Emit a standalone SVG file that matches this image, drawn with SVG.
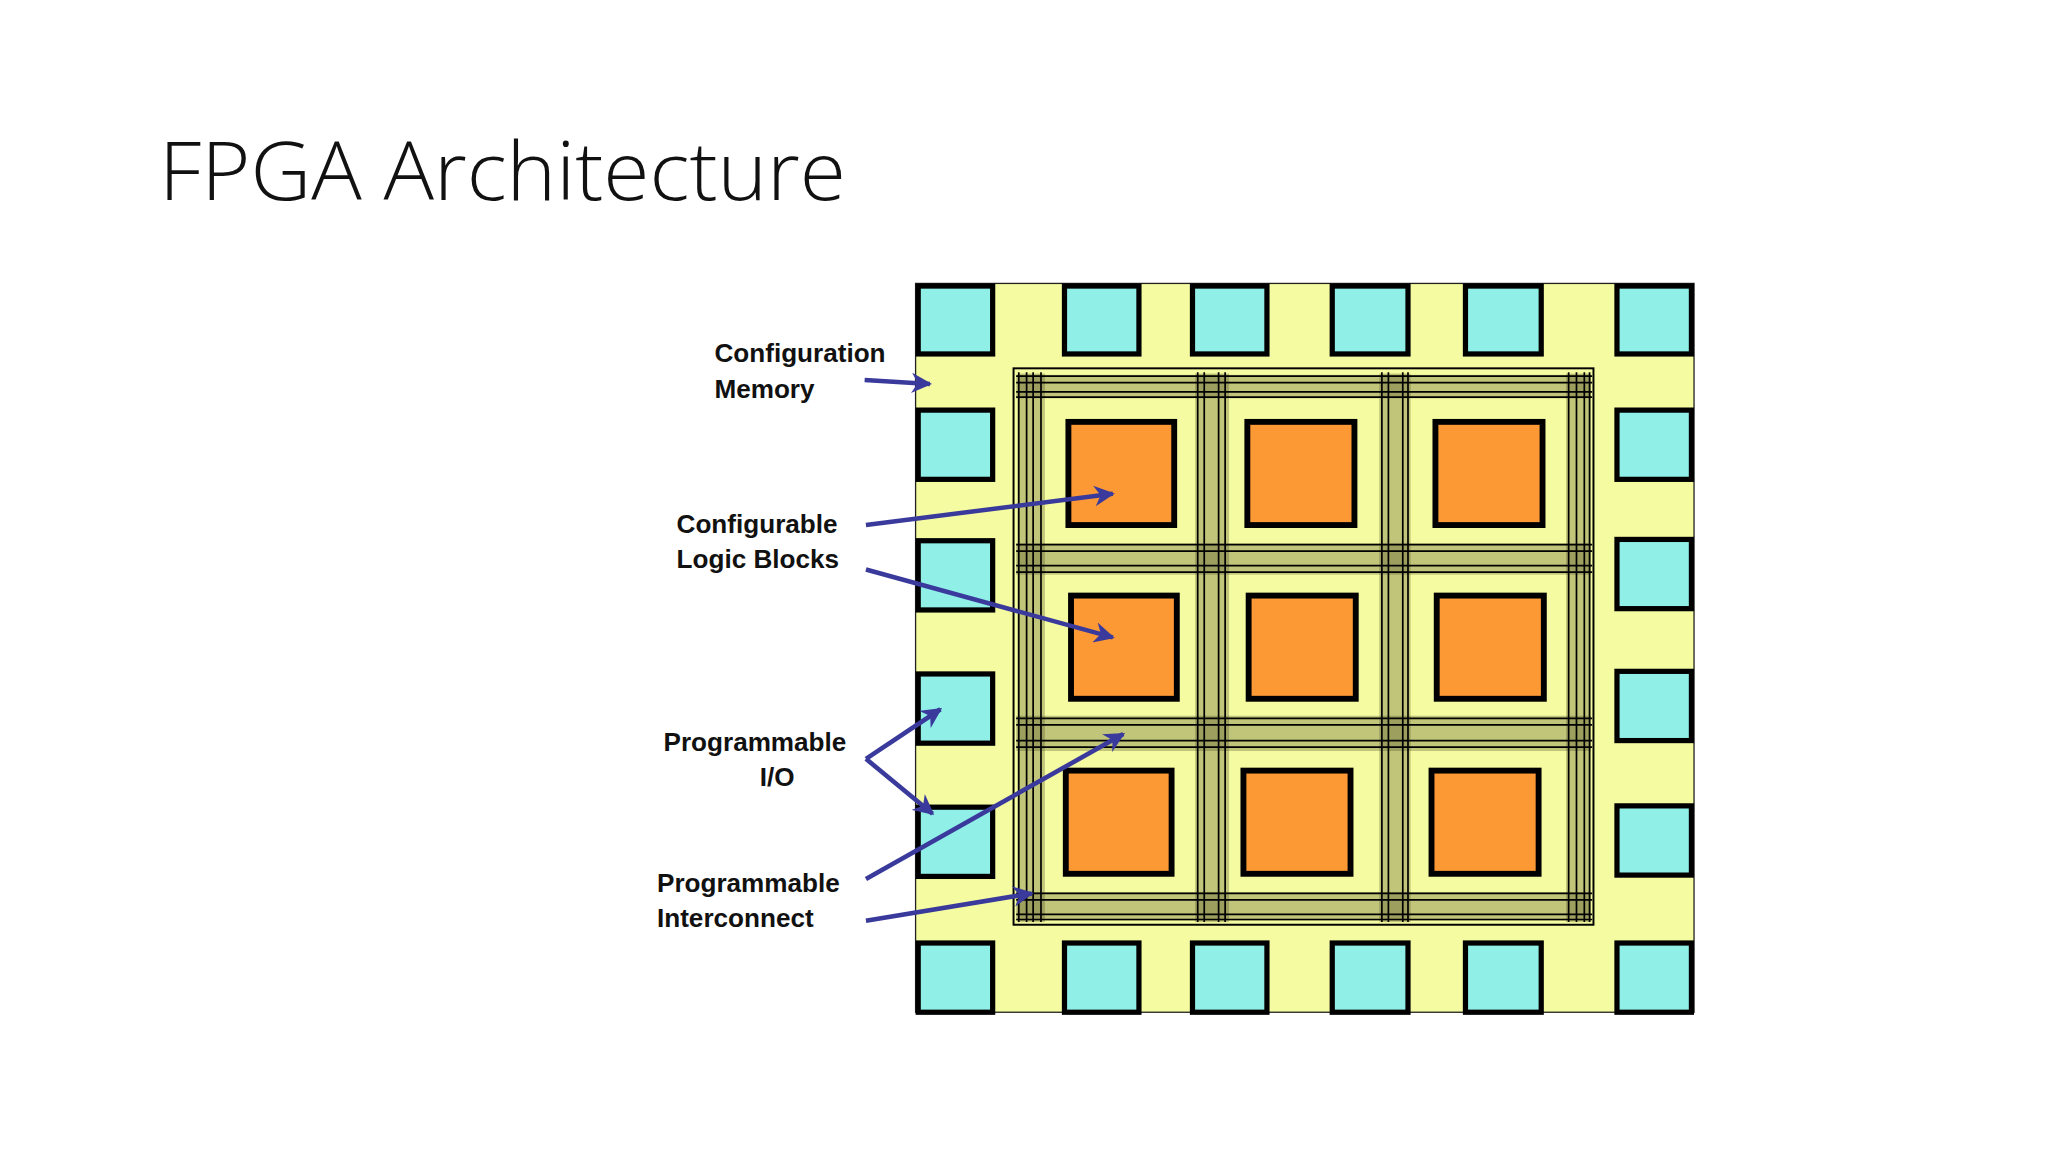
<svg xmlns="http://www.w3.org/2000/svg" width="2048" height="1152" viewBox="0 0 2048 1152">
<style>
.io{fill:#90f0e8;stroke:#000;stroke-width:4}
.clb{fill:#fd9934;stroke:#000;stroke-width:4.5}
.band{fill:#4a4a20;opacity:0.3}
.w{stroke:#000;stroke-width:1.3;fill:none}
.lbl{font-family:"Liberation Sans",Arial,sans-serif;font-weight:bold;font-size:20px;fill:#111}
.arr{stroke:#3a3a9c;stroke-width:3.5;fill:none;marker-end:url(#ah)}
</style>
<defs>
<marker id="ah" viewBox="0 0 10 10" refX="9" refY="5" markerWidth="4.5" markerHeight="4.5" orient="auto" markerUnits="strokeWidth">
<path d="M0,0 L10,5 L0,10 L3,5 Z" fill="#3a3a9c"/>
</marker>
</defs>
<rect width="2048" height="1152" fill="#fff"/>
<text x="159" y="200" font-family="'Open Sans','Liberation Sans',sans-serif" font-weight="300" font-size="82" fill="#111" textLength="687" lengthAdjust="spacingAndGlyphs">FPGA Architecture</text>
<g transform="scale(1.30612)">
<g id="chip">
<rect x="701" y="217" width="596" height="558" fill="#f5fba0" stroke="#222" stroke-width="1"/>
</g>
<g id="interconnect">
<rect x="776" y="282" width="444" height="426" fill="none" stroke="#000" stroke-width="1.5"/>
<rect class="band" x="779" y="286" width="21" height="420"/>
<rect class="band" x="915" y="286" width="26" height="420"/>
<rect class="band" x="1056" y="286" width="24" height="420"/>
<rect class="band" x="1199" y="286" width="19" height="420"/>
<rect class="band" x="778" y="287" width="440" height="18"/>
<rect class="band" x="778" y="416" width="440" height="24"/>
<rect class="band" x="778" y="548" width="440" height="27"/>
<rect class="band" x="778" y="683" width="440" height="22"/>
<path class="w" d="M780,285V706M786,285V706M791,285V706M797,285V706M917,285V706M922,285V706M933,285V706M938,285V706M1058,285V706M1063,285V706M1074,285V706M1078,285V706M1201,285V706M1207,285V706M1213,285V706M1217,285V706"/>
<path class="w" d="M778,288H1219M778,293H1219M778,300H1219M778,304H1219M778,417H1219M778,422H1219M778,433H1219M778,438H1219M778,550H1219M778,555H1219M778,567H1219M778,572H1219M778,684H1219M778,689H1219M778,700H1219M778,704H1219"/>
</g>
<g id="clbs">
<rect class="clb" x="818" y="323" width="81" height="79"/>
<rect class="clb" x="955" y="323" width="82" height="79"/>
<rect class="clb" x="1099" y="323" width="82" height="79"/>
<rect class="clb" x="820" y="456" width="81" height="79"/>
<rect class="clb" x="956" y="456" width="82" height="79"/>
<rect class="clb" x="1100" y="456" width="82" height="79"/>
<rect class="clb" x="816" y="590" width="81" height="79"/>
<rect class="clb" x="952" y="590" width="82" height="79"/>
<rect class="clb" x="1096" y="590" width="82" height="79"/>
</g>
<g id="io">
<rect class="io" x="703" y="219" width="57" height="52"/>
<rect class="io" x="815" y="219" width="57" height="52"/>
<rect class="io" x="913" y="219" width="57" height="52"/>
<rect class="io" x="1020" y="219" width="58" height="52"/>
<rect class="io" x="1122" y="219" width="58" height="52"/>
<rect class="io" x="1238" y="219" width="57" height="52"/>
<rect class="io" x="703" y="722" width="57" height="53"/>
<rect class="io" x="815" y="722" width="57" height="53"/>
<rect class="io" x="913" y="722" width="57" height="53"/>
<rect class="io" x="1020" y="722" width="58" height="53"/>
<rect class="io" x="1122" y="722" width="58" height="53"/>
<rect class="io" x="1238" y="722" width="57" height="53"/>
<rect class="io" x="703" y="314" width="57" height="53"/>
<rect class="io" x="703" y="414" width="57" height="53"/>
<rect class="io" x="703" y="516" width="57" height="53"/>
<rect class="io" x="703" y="618" width="57" height="53"/>
<rect class="io" x="1238" y="314" width="57" height="53"/>
<rect class="io" x="1238" y="413" width="57" height="53"/>
<rect class="io" x="1238" y="514" width="57" height="53"/>
<rect class="io" x="1238" y="617" width="57" height="53"/>
</g>
<g id="labels">
<text class="lbl" x="547" y="277">Configuration</text>
<text class="lbl" x="547" y="305">Memory</text>
<text class="lbl" x="518" y="408">Configurable</text>
<text class="lbl" x="518" y="435">Logic Blocks</text>
<text class="lbl" x="508" y="575">Programmable</text>
<text class="lbl" x="595" y="602" text-anchor="middle">I/O</text>
<text class="lbl" x="503" y="683">Programmable</text>
<text class="lbl" x="503" y="710">Interconnect</text>
</g>
<g id="connectors">
<path class="arr" d="M662,291L712,294"/>
<path class="arr" d="M663,402L852,378"/>
<path class="arr" d="M663,436L852,488"/>
<path class="arr" d="M663,581L720,543"/>
<path class="arr" d="M663,581L714,623"/>
<path class="arr" d="M663,673L860,562"/>
<path class="arr" d="M663,705L790,684"/>
</g>
</g>
</svg>
